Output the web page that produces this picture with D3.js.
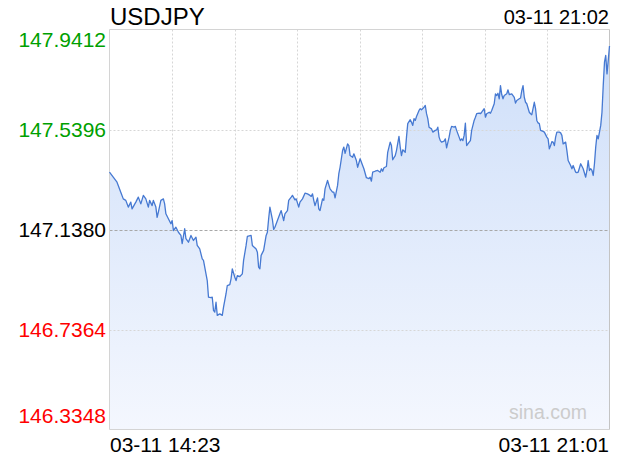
<!DOCTYPE html>
<html>
<head>
<meta charset="utf-8">
<script src="https://cdn.jsdelivr.net/npm/d3@7"></script>
<style>
  html, body { margin: 0; padding: 0; background: #fff; }
  svg { display: block; font-family: "Liberation Sans", Arial, Helvetica, sans-serif; }
</style>
</head>
<body>
<svg id="chart" width="620" height="460"></svg>
<script>
const symbol = "USDJPY";
const currentTime = "03-11 21:02";
const xLabels = ["03-11 14:23", "03-11 21:01"];
const watermark = "sina.com";
const prevClose = 147.1380;
const yTicks = [147.9412, 147.5396, 147.1380, 146.7364, 146.3348];
const totalMinutes = 399;
const minutes = [0,3,6,9,11,13,15,17,18,21,23,25,27,29,31,32,34,35,37,38,39,41,43,44,45,47,49,50,51,53,55,57,58,60,61,63,65,67,69,
70,72,74,75,77,78,79,81,82,83,84,85,86,88,90,91,93,94,96,97,98,100,101,102,104,106,107,109,110,113,114,117,118,119,120,121,123,125,126,127,128,
130,131,132,134,136,137,139,140,142,143,145,146,148,149,151,152,154,156,158,160,161,162,163,164,166,167,168,170,171,172,174,176,178,179,180,182,183,184,186,187,188,190,191,192,194,195,197,198,
200,202,203,205,207,208,209,210,212,214,216,217,218,219,221,222,224,225,226,228,229,231,232,233,234,236,237,238,240,241,242,243,244,245,247,248,249,251,252,253,254,255,257,258,260,261,262,263,264,265,267,268,269,271,272,273,275,276,277,279,280,281,282,283,284,285,287,288,289,291,292,293,295,296,297,299,
300,301,303,304,305,307,308,309,310,311,312,313,314,315,317,318,319,321,323,324,325,327,328,329,330,331,332,333,335,336,337,339,340,341,342,343,344,346,347,349,350,351,352,353,354,355,356,357,359,360,361,362,364,365,366,368,369,370,372,373,374,376,377,378,380,381,382,383,384,385,386,387,388,389,390,392,393,394,395,396,397,398,399];
const prices = [147.368,147.348,147.328,147.288,147.261,147.255,147.228,147.248,147.221,147.248,147.268,147.241,147.275,147.261,147.228,147.255,147.234,147.255,147.228,147.187,147.208,147.255,147.261,147.241,147.201,147.181,147.161,147.174,147.134,147.147,147.127,147.114,147.081,147.141,147.101,147.087,147.114,147.094,147.107,
147.074,147.060,147.020,147.014,146.960,146.933,146.866,146.864,146.866,146.813,146.806,146.846,146.793,146.799,146.793,146.826,146.880,146.913,146.917,146.940,146.980,146.946,146.933,146.953,146.949,146.960,147.014,147.074,147.110,147.114,147.074,147.060,147.047,146.987,146.980,147.034,147.054,147.114,147.127,147.181,147.228,
147.178,147.138,147.147,147.174,147.201,147.214,147.174,147.201,147.214,147.255,147.268,147.275,147.257,147.261,147.228,147.248,147.261,147.284,147.281,147.275,147.271,147.281,147.255,147.234,147.265,147.221,147.214,147.261,147.255,147.301,147.335,147.301,147.288,147.288,147.265,147.315,147.362,147.388,147.455,147.469,147.444,147.482,147.475,147.435,147.428,147.442,147.415,147.388,
147.422,147.395,147.382,147.346,147.342,147.348,147.332,147.368,147.372,147.375,147.368,147.382,147.372,147.386,147.391,147.448,147.489,147.475,147.418,147.435,147.455,147.512,147.469,147.435,147.458,147.448,147.509,147.563,147.579,147.569,147.556,147.583,147.576,147.592,147.616,147.623,147.619,147.629,147.636,147.603,147.583,147.549,147.542,147.529,147.536,147.538,147.549,147.509,147.495,147.489,147.493,147.502,147.466,147.509,147.536,147.552,147.549,147.552,147.536,147.509,147.495,147.502,147.495,147.516,147.565,147.475,147.489,147.495,147.536,147.576,147.589,147.603,147.605,147.603,147.609,147.623,
147.589,147.603,147.609,147.605,147.616,147.643,147.683,147.676,147.685,147.663,147.716,147.680,147.663,147.676,147.683,147.699,147.680,147.683,147.669,147.646,147.656,147.663,147.666,147.696,147.716,147.669,147.649,147.643,147.609,147.603,147.599,147.649,147.623,147.576,147.566,147.563,147.536,147.532,147.529,147.509,147.502,147.462,147.475,147.491,147.489,147.475,147.509,147.529,147.529,147.526,147.516,147.482,147.489,147.455,147.415,147.395,147.382,147.395,147.368,147.366,147.368,147.402,147.392,147.382,147.348,147.375,147.415,147.375,147.382,147.375,147.355,147.402,147.469,147.516,147.502,147.556,147.609,147.716,147.810,147.837,147.763,147.817,147.875];

const svg = d3.select("#chart");
const L = 109.5, R = 609.5, T = 29.5, B = 429.5;

const x = d3.scaleLinear().domain([0, totalMinutes]).range([L, R]);
const y = d3.scaleLinear().domain([yTicks[yTicks.length - 1], yTicks[0]]).range([B, T]);

const data = minutes.map((m, i) => ({ m, p: prices[i] }));

// gradient
const defs = svg.append("defs");
const grad = defs.append("linearGradient").attr("id", "areaGrad")
  .attr("gradientUnits", "userSpaceOnUse").attr("x1", 0).attr("y1", T).attr("x2", 0).attr("y2", B);
grad.append("stop").attr("offset", "0%").attr("stop-color", "#cddef9");
grad.append("stop").attr("offset", "100%").attr("stop-color", "#f4f7fe");

// vertical grid
const vCount = 8;
const vg = d3.range(1, vCount).map(i => i * totalMinutes / vCount);
svg.append("g").selectAll("line").data(vg).join("line")
  .attr("x1", d => Math.round(x(d)) + 0.5).attr("x2", d => Math.round(x(d)) + 0.5)
  .attr("y1", T).attr("y2", B)
  .attr("stroke", "#d6d6d6").attr("stroke-width", 1).attr("stroke-dasharray", "2,2");

// area
const area = d3.area().x(d => x(d.m)).y0(B).y1(d => y(d.p));
svg.append("path").datum(data).attr("d", area).attr("fill", "url(#areaGrad)");

// horizontal grid
svg.append("g").selectAll("line").data(yTicks.slice(1, -1)).join("line")
  .attr("x1", L).attr("x2", R)
  .attr("y1", d => Math.round(y(d)) + 0.5).attr("y2", d => Math.round(y(d)) + 0.5)
  .attr("stroke", d => d === prevClose ? "#a8a8a8" : "#d6d6d6")
  .attr("stroke-width", 1)
  .attr("stroke-dasharray", d => d === prevClose ? "3,2" : "2,2");

// border
svg.append("line").attr("x1", L).attr("x2", R).attr("y1", T).attr("y2", T).attr("stroke", "#d4d4d4");
svg.append("line").attr("x1", L).attr("x2", R).attr("y1", B).attr("y2", B).attr("stroke", "#d4d4d4");
svg.append("line").attr("x1", L).attr("x2", L).attr("y1", T).attr("y2", B).attr("stroke", "#d4d4d4");
svg.append("line").attr("x1", R).attr("x2", R).attr("y1", T).attr("y2", B).attr("stroke", "#c4c4c4");

// watermark
svg.append("text").attr("x", 587).attr("y", 419).attr("text-anchor", "end")
  .attr("font-size", 19.5).attr("fill", "#cccccc").text(watermark);

// line
const line = d3.line().x(d => x(d.m)).y(d => y(d.p));
svg.append("path").datum(data).attr("d", line)
  .attr("fill", "none").attr("stroke", "#4679d2").attr("stroke-width", 1.3)
  .attr("stroke-linejoin", "round");

// y labels
const fmt = d3.format(".4f");
svg.append("g").selectAll("text").data(yTicks).join("text")
  .attr("x", 106).attr("text-anchor", "end")
  .attr("y", (d, i) => {
    const yy = y(d);
    if (i === 0) return yy + 17;
    if (i === yTicks.length - 1) return yy - 7;
    return yy + 7;
  })
  .attr("font-size", 21)
  .attr("fill", d => d > prevClose ? "#009f00" : (d < prevClose ? "#ff0000" : "#000"))
  .text(d => fmt(d));

// titles
svg.append("text").attr("x", 110).attr("y", 25).attr("font-size", 24).attr("fill", "#000").text(symbol);
svg.append("text").attr("x", 609).attr("y", 24).attr("text-anchor", "end").attr("font-size", 20).attr("fill", "#000").text(currentTime);

// x labels
svg.append("text").attr("x", 110).attr("y", 452).attr("font-size", 21).attr("fill", "#000").text(xLabels[0]);
svg.append("text").attr("x", 609).attr("y", 452).attr("text-anchor", "end").attr("font-size", 21).attr("fill", "#000").text(xLabels[1]);
</script>
</body>
</html>
